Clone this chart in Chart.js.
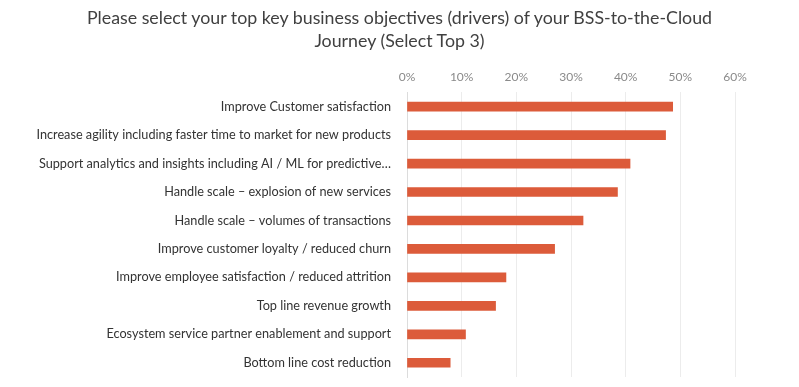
<!DOCTYPE html>
<html>
<head>
<meta charset="utf-8">
<script src="https://cdn.jsdelivr.net/npm/chart.js@4.4.1/dist/chart.umd.min.js"></script>
<style>
  html, body { margin: 0; padding: 0; background: #fff; }
  .wrap { position: relative; width: 799px; height: 387px; }
  canvas { display: block; }
  .title {
    position: absolute; left: 0; top: 6px; width: 799px;
    text-align: center; color: #404040;
    font: 17.8px/23px Lato, sans-serif;
  }
</style>
</head>
<body>
<div class="wrap">
  <canvas id="driversChart" width="799" height="387"></canvas>
  <div class="title">Please select your top key business objectives (drivers) of your BSS-to-the-Cloud<br>Journey (Select Top 3)</div>
</div>
<script>
// Survey answers, top to bottom
const objectives = [
  'Improve Customer satisfaction',
  'Increase agility including faster time to market for new products',
  'Support analytics and insights including AI / ML for predictive…',
  'Handle scale – explosion of new services',
  'Handle scale – volumes of transactions',
  'Improve customer loyalty / reduced churn',
  'Improve employee satisfaction / reduced attrition',
  'Top line revenue growth',
  'Ecosystem service partner enablement and support',
  'Bottom line cost reduction'
];
const shares = [48.6, 47.3, 40.8, 38.5, 32.2, 27.0, 18.1, 16.2, 10.7, 7.9];
const tickSteps = [0, 10, 20, 30, 40, 50, 60];

const ctx = document.getElementById('driversChart').getContext('2d');
new Chart(ctx, {
  type: 'bar',
  data: {
    labels: objectives,
    datasets: [{
      data: shares,
      backgroundColor: '#dc5b3a',
      barThickness: 9
    }]
  },
  options: {
    indexAxis: 'y',
    responsive: false,
    animation: false,
    layout: { padding: { left: 0, right: 64, top: 62, bottom: 10 } },
    plugins: {
      legend: { display: false },
      tooltip: { enabled: false }
    },
    scales: {
      x: {
        position: 'top',
        min: 0,
        max: 60,
        afterBuildTicks: (axis) => { axis.ticks = tickSteps.map(v => ({ value: v })); },
        ticks: {
          color: '#8a8a8a',
          font: { family: 'Lato, sans-serif', size: 12 },
          padding: 8,
          callback: (v) => v + '%'
        },
        grid: { color: '#ececec', drawTicks: false },
        border: { display: false }
      },
      y: {
        // fixed label column; drop the label half-height padding Chart.js adds
        afterFit: (axis) => {
          axis.width = 407;
          axis.paddingTop = 0;
          axis.paddingBottom = 0;
        },
        ticks: {
          color: '#333',
          font: { family: 'Lato, sans-serif', size: 12.7 },
          padding: 16,
          autoSkip: false
        },
        grid: { display: false, drawTicks: false },
        border: { display: true, color: '#dcdcdc' }
      }
    }
  }
});
</script>
</body>
</html>
